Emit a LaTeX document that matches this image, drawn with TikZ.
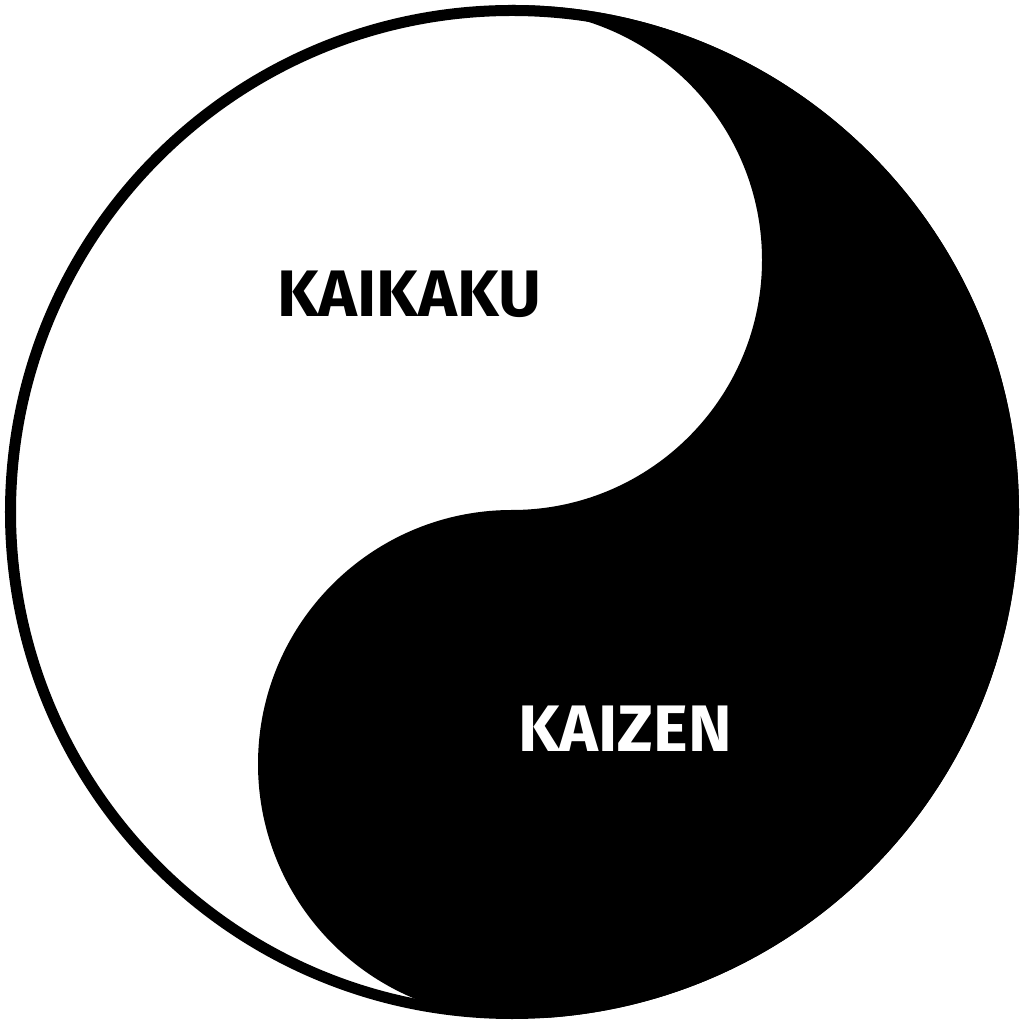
\documentclass[tikz,border=0pt]{standalone}
\usepackage{fontspec}
\setmainfont{Fira Sans}
\usepackage{tikz}

\begin{document}
\begin{tikzpicture}[
            x=0.01cm, y=0.01cm,
            ring/.style={draw=black, line width=0.11cm},
            word/.style={font=\bfseries\fontsize{18.7}{18.7}\selectfont, inner sep=0pt}
        ]
        \useasboundingbox (0,0) rectangle (1024,1024);
        % black half, cut to the outer edge of the ring
        \begin{scope}
        \clip (512,512) circle[radius=507];
        \fill[black] (512,1014) arc[start angle=90, end angle=-90, radius=250]
            arc[start angle=90, end angle=270, radius=254]
            -- (1100,6) -- (1100,1100) -- (512,1100) -- cycle;
        \end{scope}
        \draw[ring] (512,512) circle[radius=501.5];
        \node[word] (kaikaku) at (409,730) {KAIKAKU};
        \node[word, text=white] (kaizen) at (625,295) {KAIZEN};
        \end{tikzpicture}
\end{document}
